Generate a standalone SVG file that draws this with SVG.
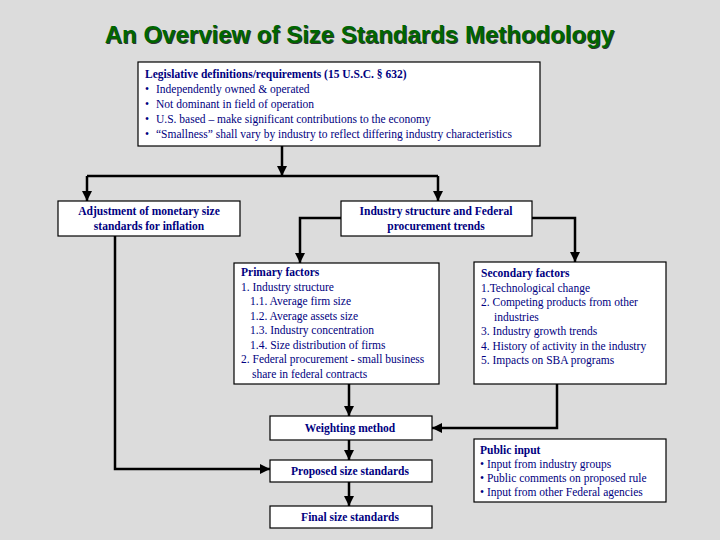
<svg xmlns="http://www.w3.org/2000/svg" width="720" height="540" viewBox="0 0 720 540">
<defs>
<marker id="ah" viewBox="0 0 10 10" refX="10" refY="5" markerWidth="4" markerHeight="4" orient="auto"><path d="M0,0L10,5L0,10z" fill="#000"/></marker>
</defs>
<style>
.b{fill:#fff;stroke:#000;stroke-width:1.2}
.t{font-family:"Liberation Serif",serif;font-size:11.5px;fill:#000080}
.h{font-weight:bold}
.c{fill:none;stroke:#000;stroke-width:2.5;marker-end:url(#ah)}
.l{fill:none;stroke:#000;stroke-width:2.5}
</style>
<rect width="720" height="540" fill="#dcdcdc"/>
<text x="360.5" y="43.5" text-anchor="middle" font-family="Liberation Sans,sans-serif" font-weight="bold" font-size="24" fill="#333">An Overview of Size Standards Methodology</text>
<text x="359.5" y="42.5" text-anchor="middle" font-family="Liberation Sans,sans-serif" font-weight="bold" font-size="24" fill="#006600">An Overview of Size Standards Methodology</text>
<g id="connectors">
<polyline class="c" points="282,146 282,176"/>
<polyline class="l" points="87,176 438,176"/>
<polyline class="c" points="87,176 87,201"/>
<polyline class="c" points="438,176 438,201"/>
<polyline class="c" points="341,218 300,218 300,263"/>
<polyline class="c" points="532,218 575,218 575,262"/>
<polyline class="c" points="115,236 115,469 270,469"/>
<polyline class="c" points="349,384 349,416"/>
<polyline class="c" points="557,384 557,428 432,428"/>
<polyline class="c" points="349,440 349,460"/>
<polyline class="c" points="349,482 349,506"/>
</g>
<g id="legislative"><rect class="b" x="138" y="62" width="402" height="84"/>
<text class="t" x="145" y="78"><tspan class="h">Legislative definitions/requirements (15 U.S.C. § 632)</tspan>
<tspan x="145" dy="15">•</tspan><tspan x="156">Independently owned &amp; operated</tspan>
<tspan x="145" dy="15">•</tspan><tspan x="156">Not dominant in field of operation</tspan>
<tspan x="145" dy="15">•</tspan><tspan x="156">U.S. based – make significant contributions to the economy</tspan>
<tspan x="145" dy="15">•</tspan><tspan x="156">“Smallness” shall vary by industry to reflect differing industry characteristics</tspan></text></g>
<g id="adjustment"><rect class="b" x="58" y="201" width="182" height="35"/>
<text class="t h" text-anchor="middle" x="149" y="215">Adjustment of monetary size<tspan x="149" dy="15">standards for inflation</tspan></text></g>
<g id="industry"><rect class="b" x="341" y="201" width="191" height="35"/>
<text class="t h" text-anchor="middle" x="436" y="215">Industry structure and Federal<tspan x="436" dy="15">procurement trends</tspan></text></g>
<g id="primary"><rect class="b" x="234" y="263" width="205" height="121"/>
<text class="t" x="241" y="276"><tspan class="h">Primary factors</tspan>
<tspan x="241" dy="14.5">1. Industry structure</tspan>
<tspan x="250" dy="14.5">1.1. Average firm size</tspan>
<tspan x="250" dy="14.5">1.2. Average assets size</tspan>
<tspan x="250" dy="14.5">1.3. Industry concentration</tspan>
<tspan x="250" dy="14.5">1.4. Size distribution of firms</tspan>
<tspan x="241" dy="14.5">2. Federal procurement - small business</tspan>
<tspan x="252" dy="14.5">share in federal contracts</tspan></text></g>
<g id="secondary"><rect class="b" x="474" y="262" width="192" height="122"/>
<text class="t" x="481" y="277"><tspan class="h">Secondary factors</tspan>
<tspan x="481" dy="14.5">1.Technological change</tspan>
<tspan x="481" dy="14.5">2. Competing products from other</tspan>
<tspan x="494" dy="14.5">industries</tspan>
<tspan x="481" dy="14.5">3. Industry growth trends</tspan>
<tspan x="481" dy="14.5">4. History of activity in the industry</tspan>
<tspan x="481" dy="14.5">5. Impacts on SBA programs</tspan></text></g>
<g id="weighting"><rect class="b" x="270" y="416" width="162" height="24"/>
<text class="t h" text-anchor="middle" x="350" y="432">Weighting method</text></g>
<g id="public"><rect class="b" x="474" y="439" width="192" height="63"/>
<text class="t" x="480" y="454"><tspan class="h">Public input</tspan>
<tspan x="480" dy="14">• Input from industry groups</tspan>
<tspan x="480" dy="14">• Public comments on proposed rule</tspan>
<tspan x="480" dy="14">• Input from other Federal agencies</tspan></text></g>
<g id="proposed"><rect class="b" x="270" y="460" width="162" height="22"/>
<text class="t h" text-anchor="middle" x="350" y="475">Proposed size standards</text></g>
<g id="final"><rect class="b" x="270" y="506" width="162" height="22"/>
<text class="t h" text-anchor="middle" x="350" y="521">Final size standards</text></g>
</svg>
